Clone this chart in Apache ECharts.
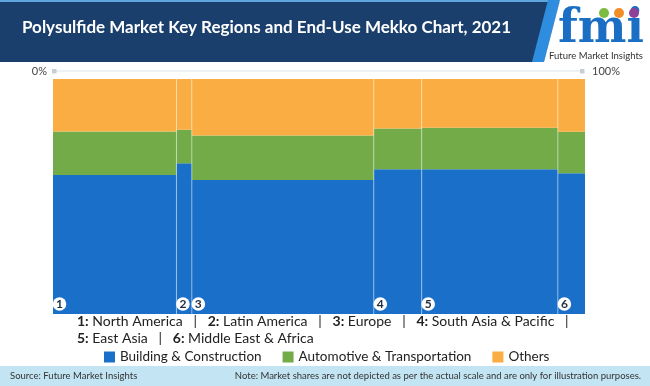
<!DOCTYPE html>
<html>
<head>
<meta charset="utf-8">
<script src="https://cdn.jsdelivr.net/npm/echarts@6/dist/echarts.min.js"></script>
<style>html,body{margin:0;padding:0;background:#fff;}#c{width:650px;height:386px;}</style>
</head>
<body>
<div id="c"></div>
<script>
var regions = ['North America', 'Latin America', 'Europe', 'South Asia & Pacific', 'East Asia', 'Middle East & Africa'];
var regionWidths = [23.2, 2.9, 34.2, 9.0, 25.6, 5.1];
var building = [59.1, 64.1, 57.0, 61.6, 61.6, 59.9];
var automotive = [18.6, 14.3, 19.0, 17.3, 17.7, 17.7];
var others = [22.3, 21.6, 24.0, 21.1, 20.7, 22.4];
var segmentNames = ['Building & Construction', 'Automotive & Transportation', 'Others'];
var axisTicks = ['0%', '100%'];

var colors = ['#1a6fc8', '#72ab47', '#f9ad42'];
var FONT = 'Lato';

var xStarts = [];
(function () { var acc = 0; for (var i = 0; i < regionWidths.length; i++) { xStarts.push(acc); acc += regionWidths[i]; } })();

var segValues = [building, automotive, others];
function segData(k) {
  var out = [];
  for (var i = 0; i < regions.length; i++) {
    var y0 = 0;
    for (var j = 0; j < k; j++) y0 += segValues[j][i];
    out.push([xStarts[i], xStarts[i] + regionWidths[i], y0, y0 + segValues[k][i], regions[i]]);
  }
  return out;
}
function rectRender(params, api) {
  var p0 = api.coord([api.value(0), api.value(3)]);
  var p1 = api.coord([api.value(1), api.value(2)]);
  return {
    type: 'rect',
    shape: { x: p0[0], y: p0[1], width: p1[0] - p0[0], height: p1[1] - p0[1] },
    style: { fill: api.visual('color') }
  };
}
var series = segmentNames.map(function (n, k) {
  return {
    name: n, type: 'custom', renderItem: rectRender, data: segData(k),
    itemStyle: { color: colors[k] },
    encode: { x: [0, 1], y: [2, 3] }
  };
});
var labelData = regions.map(function (r, i) { return [xStarts[i], i + 1]; });
series.push({
  name: 'labels', type: 'custom', silent: true, z: 5,
  data: labelData,
  encode: { x: 0, y: 1 },
  renderItem: function (params, api) {
    var top = api.coord([api.value(0), 100]);
    var bot = api.coord([api.value(0), 0]);
    var children = [];
    if (params.dataIndex > 0) {
      children.push({ type: 'line', shape: { x1: top[0], y1: top[1], x2: bot[0], y2: bot[1] },
        style: { stroke: 'rgba(255,255,255,0.45)', lineWidth: 1 } });
    }
    children.push({ type: 'circle', shape: { cx: bot[0] + 6.5, cy: bot[1] - 10, r: 6.8 }, style: { fill: '#fff' } });
    children.push({ type: 'text', style: { text: String(api.value(1)), x: bot[0] + 6.5, y: bot[1] - 9.5,
      align: 'center', verticalAlign: 'middle', fill: '#1f2d3d', font: 'bold 12px ' + FONT } });
    return { type: 'group', children: children };
  }
});

var chart = echarts.init(document.getElementById('c'), null, { renderer: 'canvas' });

var regionLine1 = '{b|1:} North America   |   {b|2:} Latin America   |   {b|3:} Europe   |   {b|4:} South Asia & Pacific   |';
var regionLine2 = '{b|5:} East Asia   |   {b|6:} Middle East & Africa';

chart.setOption({
  animation: false,
  grid: { left: 53, right: 65, top: 79, bottom: 72 },
  xAxis: { type: 'value', min: 0, max: 100, show: false },
  yAxis: { type: 'value', min: 0, max: 100, show: false },
  legend: {
    data: segmentNames, left: 99, top: 345, itemWidth: 11, itemHeight: 11, itemGap: 21,
    icon: 'rect', textStyle: { fontFamily: FONT, fontSize: 13.5, color: '#222' }
  },
  graphic: [
    { type: 'rect', left: 0, top: 0, shape: { width: 650, height: 62 }, style: { fill: '#1b3f6c' }, z: 0 },
    { type: 'rect', left: 0, top: 0, shape: { width: 650, height: 2 }, style: { fill: '#5fa6dc' }, z: 1 },
    { type: 'polygon', shape: { points: [[532, 62], [548, 0], [560, 0], [544, 62]] }, style: { fill: '#2f8de0' }, z: 1 },
    { type: 'polygon', shape: { points: [[544, 62], [560, 0], [650, 0], [650, 62]] }, style: { fill: '#ffffff' }, z: 1 },
    { type: 'text', left: 22, top: 19, style: { text: 'Polysulfide Market Key Regions and End-Use Mekko Chart, 2021',
      fill: '#fff', font: 'bold 17px ' + FONT }, z: 2 },
    { type: 'text', left: 558, top: 7, style: { text: 'fmi', fill: '#1a6fc4', font: 'bold 46px "DejaVu Serif"' }, z: 2 },
    { type: 'circle', shape: { cx: 604, cy: 13, r: 5 }, style: { fill: '#7dbb42' }, z: 2 },
    { type: 'circle', shape: { cx: 619, cy: 13, r: 5 }, style: { fill: '#f28c28' }, z: 2 },
    { type: 'circle', shape: { cx: 634, cy: 13, r: 5 }, style: { fill: '#8e3f98' }, z: 2 },
    { type: 'text', left: 549, top: 51, style: { text: 'Future Market Insights', fill: '#333', font: '9.5px ' + FONT }, z: 2 },
    { type: 'line', shape: { x1: 54, y1: 71, x2: 582, y2: 71 }, style: { stroke: '#dde3ea', lineWidth: 1 } },
    { type: 'rect', shape: { x: 52, y: 69, width: 4.5, height: 4.5 }, style: { fill: '#c8cdd3' } },
    { type: 'rect', shape: { x: 580, y: 69, width: 4.5, height: 4.5 }, style: { fill: '#c8cdd3' } },
    { type: 'text', style: { text: axisTicks[0], x: 47, y: 71, align: 'right', verticalAlign: 'middle', fill: '#444', font: '11px ' + FONT } },
    { type: 'text', style: { text: axisTicks[1], x: 592, y: 71, align: 'left', verticalAlign: 'middle', fill: '#444', font: '11px ' + FONT } },
    { type: 'text', left: 77, top: 314, style: { text: regionLine1, fill: '#222', font: '14px ' + FONT,
      rich: { b: { fontWeight: 'bold', fontFamily: FONT, fontSize: 14, fill: '#222' } } } },
    { type: 'text', left: 77, top: 331, style: { text: regionLine2, fill: '#222', font: '14px ' + FONT,
      rich: { b: { fontWeight: 'bold', fontFamily: FONT, fontSize: 14, fill: '#222' } } } },
    { type: 'rect', left: 0, top: 366, shape: { width: 650, height: 20 }, style: { fill: '#c3e5f3' } },
    { type: 'text', style: { text: 'Source: Future Market Insights', x: 10, y: 376, verticalAlign: 'middle', fill: '#333', font: '9.5px ' + FONT } },
    { type: 'text', style: { text: 'Note: Market shares are not depicted as per the actual scale and are only for illustration purposes.',
      x: 641, y: 376, align: 'right', verticalAlign: 'middle', fill: '#333', font: '9.5px ' + FONT } }
  ],
  series: series
});
</script>
</body>
</html>
